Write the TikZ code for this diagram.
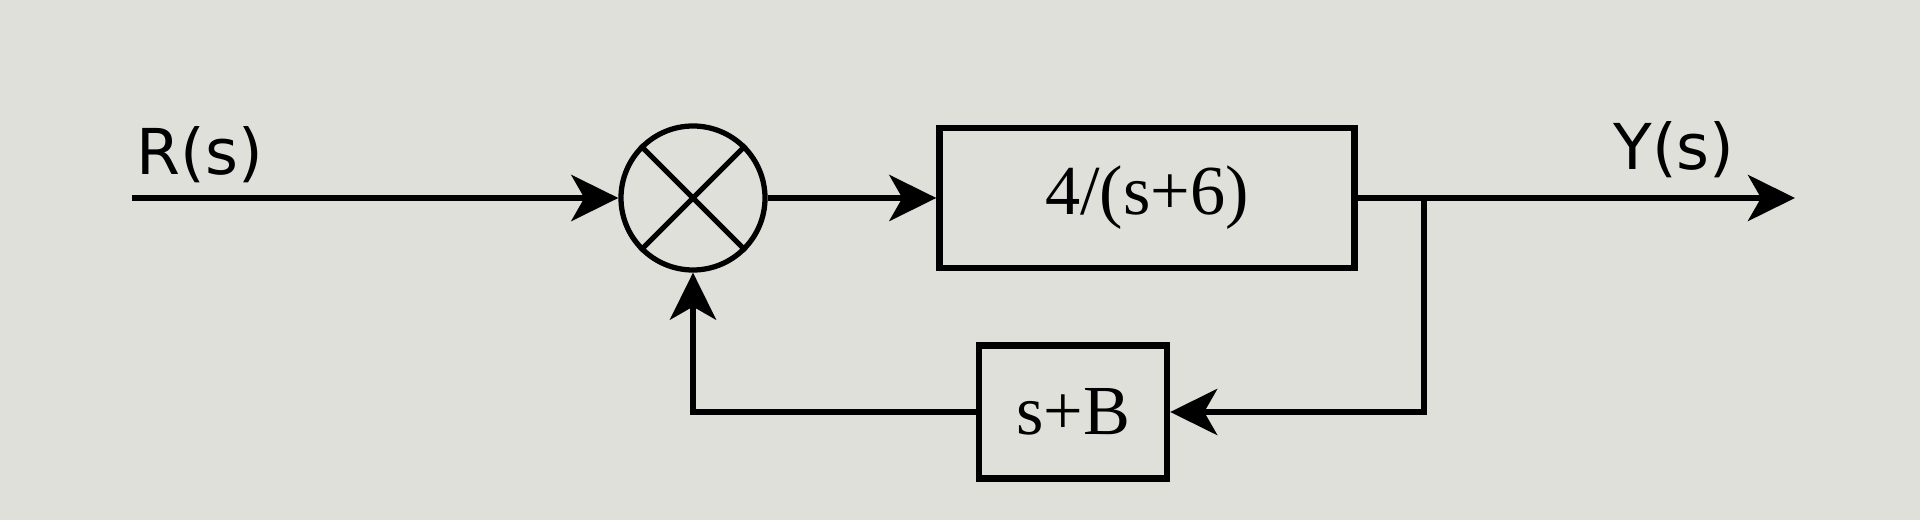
\documentclass[tikz,border=0pt]{standalone}
\usepackage{fontspec}
\setmainfont{Liberation Serif}
\newfontfamily\labelfont{DejaVu Sans}
\usetikzlibrary{arrows.meta}
\tikzset{>={Stealth[length=4.7mm,width=4.6mm,inset=1.3mm]}}
\definecolor{screen}{RGB}{224,224,219}

\begin{document}
\begin{tikzpicture}[
    blk/.style={draw,line width=1.8pt,minimum width=4.15cm,minimum height=1.4cm,inner sep=0pt,font=\fontsize{20}{24}\selectfont},
    sig/.style={line width=1.8pt},
    lbl/.style={inner sep=0pt,font=\labelfont\fontsize{18}{22}\selectfont}]
            \fill[screen] (0,0) rectangle (19.2,5.2);
            \useasboundingbox (0,0) rectangle (19.2,5.2);
            \coordinate (in) at (1.32,3.22);
            \coordinate (br) at (14.24,3.22);
            \coordinate (out) at (17.95,3.22);
            \node[circle,draw,line width=1.5pt,minimum size=1.44cm,inner sep=0pt] (sum) at (6.93,3.22) {};
            \node[blk] (plant) at (11.47,3.22) {4/(s+6)};
            \node[blk,minimum width=1.88cm,minimum height=1.33cm] (fb) at (10.73,1.08) {s+B};
            \node[lbl] (r) at (2.00,3.65) {R(s)};
            \node[lbl] (y) at (16.74,3.70) {Y(s)};
            \draw[line width=1.5pt] (sum.north west) -- (sum.south east);
            \draw[line width=1.5pt] (sum.north east) -- (sum.south west);
            \draw[sig,->] (in) -- (sum);
            \draw[sig,->] (sum) -- (plant);
            \draw[sig,->] (plant) -- (out);
            \draw[sig,->] (br) |- (fb);
            \draw[sig,->] (fb) -| (sum);
        \end{tikzpicture}
\end{document}
